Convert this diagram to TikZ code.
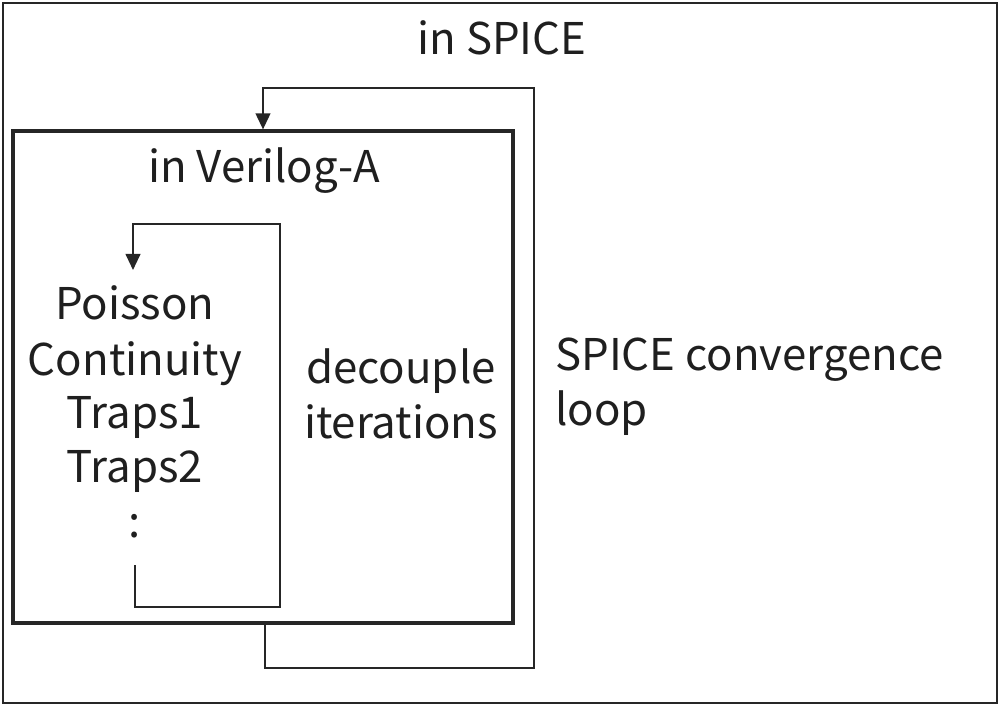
\documentclass[tikz,border=0pt]{standalone}
\usepackage{fontspec}
\setmainfont{Noto Sans CJK JP}
\usetikzlibrary{arrows.meta}
\tikzset{
  lbl/.style={font=\fontsize{32.8}{40}\selectfont, inner sep=0pt, anchor=base, text=black!88},
  outerbox/.style={draw=black!85, line width=2.2pt},
  vbox/.style={draw=black!85, line width=2.4pt, inner sep=0pt, minimum width=375pt, minimum height=369pt},
  loopline/.style={draw=black!85, line width=1.5pt},
  tip/.style={-{Triangle[length=12pt,width=11pt]}}
}
\begin{document}
\begin{tikzpicture}[x=0.75pt,y=-0.75pt]
\useasboundingbox (0,0) rectangle (1000,706);
% outer box
\node[outerbox, inner sep=0pt, minimum width=745.5pt, minimum height=525pt] (spice) at (500,353) {};
% Verilog-A box
\node[vbox] (verilog) at (263,377) {};
% texts
\node[lbl] (tspice) at (502,55) {in SPICE};
\node[lbl] (tverilog) at (264,183) {in Verilog-A};
\node[lbl] (l1) at (135,319) {Poisson};
\node[lbl] (l2) at (135,375) {Continuity};
\node[lbl] (l3) at (135,428) {Traps1};
\node[lbl] (l4) at (135,482) {Traps2};
\node[lbl] (l5) at (135,537) {:};
\node[lbl] (d1) at (401,383) {decouple};
\node[lbl] (d2) at (401,438) {iterations};
\node[lbl, anchor=base west] (s1) at (555,370) {SPICE convergence};
\node[lbl, anchor=base west] (s2) at (555,425) {loop};
% outer (SPICE) loop
\coordinate (ostart) at (265,623);
\draw[loopline, tip] (ostart) -- (265,668) -| (534,88) -| (verilog.north);
% inner (decoupled) loop
\coordinate (istart) at (135,565);
\coordinate (iend) at (133,270);
\draw[loopline, tip] (istart) |- (280,607) |- (133,224) -- (iend);
\end{tikzpicture}
\end{document}
